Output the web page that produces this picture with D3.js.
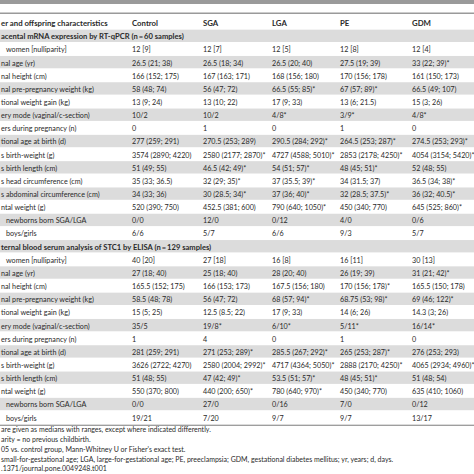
<!DOCTYPE html>
<html><head><meta charset="utf-8">
<script src="https://cdn.jsdelivr.net/npm/d3@7"></script>
<style>body{margin:0;background:#fff}svg{display:block}</style>
</head><body>
<script>
const columns = ["er and offspring characteristics","Control","SGA","LGA","PE","GDM"];
const section1 = "acental mRNA expression by RT-qPCR (n\u2009=\u200960 samples)";
const section2 = "ternal blood serum analysis of STC1 by ELISA (n\u2009=\u2009129 samples)";
const rows1 = [
 ["  women [nulliparity]","12 [9]","12 [7]","12 [5]","12 [8]","12 [4]"],
 ["nal age (yr)","26.5 (21; 38)","26.5 (18; 34)","26.5 (20; 40)","27.5 (19; 39)","33 (22; 39)*"],
 ["nal height (cm)","166 (152; 175)","167 (163; 171)","168 (156; 180)","170 (156; 178)","161 (150; 173)"],
 ["nal pre-pregnancy weight (kg)","58 (48; 74)","56 (47; 72)","66.5 (55; 85)*","67 (57; 89)*","66.5 (49; 107)"],
 ["tional weight gain (kg)","13 (9; 24)","13 (10; 22)","17 (9; 33)","13 (6; 21.5)","15 (3; 26)"],
 ["ery mode (vaginal/c-section)","10/2","10/2","4/8*","3/9*","4/8*"],
 ["ers during pregnancy (n)","0","1","0","1","0"],
 ["tional age at birth (d)","277 (259; 291)","270.5 (253; 289)","290.5 (284; 292)*","264.5 (253; 287)*","274.5 (253; 293)*"],
 ["s birth-weight (g)","3574 (2890; 4220)","2580 (2177; 2870)*","4727 (4588; 5010)*","2853 (2178; 4250)*","4054 (3154; 5420)*"],
 ["s birth length (cm)","51 (49; 55)","46.5 (42; 49)*","54 (51; 57)*","48 (45; 51)*","52 (48; 55)"],
 ["s head circumference (cm)","35 (33; 36.5)","32 (29; 35)*","37 (35.5; 39)*","34 (31.5; 37)","36.5 (34; 38)*"],
 ["s abdominal circumference (cm)","34 (33; 36)","30 (28.5; 34)*","37 (36; 40)*","32 (28.5; 37.5)*","36 (32; 40.5)*"],
 ["ntal weight (g)","520 (390; 750)","452.5 (381; 600)","790 (640; 1050)*","450 (340; 770)","645 (525; 860)*"],
 ["  newborns born SGA/LGA","0/0","12/0","0/12","4/0","0/6"],
 ["  boys/girls","6/6","5/7","6/6","9/3","5/7"]
];
const rows2 = [
 ["  women [nulliparity]","40 [20]","27 [18]","16 [8]","16 [11]","30 [13]"],
 ["nal age (yr)","27 (18; 40)","25 (18; 40)","28 (20; 40)","26 (19; 39)","31 (21; 42)*"],
 ["nal height (cm)","165.5 (152; 175)","166 (153; 173)","167.5 (156; 180)","170 (156; 178)*","165.5 (150; 178)"],
 ["nal pre-pregnancy weight (kg)","58.5 (48; 78)","56 (47; 72)","68 (57; 94)*","68.75 (53; 98)*","69 (46; 122)*"],
 ["tional weight gain (kg)","15 (5; 25)","12.5 (8.5; 22)","17 (9; 33)","14 (6; 26)","14.3 (3; 26)"],
 ["ery mode (vaginal/c-section)","35/5","19/8*","6/10*","5/11*","16/14*"],
 ["ers during pregnancy (n)","1","4","0","1","0"],
 ["tional age at birth (d)","281 (259; 291)","271 (253; 289)*","285.5 (267; 292)*","265 (253; 287)*","276 (253; 293)"],
 ["s birth-weight (g)","3626 (2722; 4270)","2580 (2004; 2992)*","4717 (4364; 5050)*","2888 (2170; 4250)*","4065 (2934; 4960)*"],
 ["s birth length (cm)","51 (48; 55)","47 (42; 49)*","53.5 (51; 57)*","48 (45; 51)*","51 (48; 54)"],
 ["ntal weight (g)","550 (370; 800)","440 (200; 650)*","780 (640; 970)*","450 (340; 770)","635 (410; 1060)"],
 ["  newborns born SGA/LGA","0/0","27/0","0/16","7/0","0/12"],
 ["  boys/girls","19/21","7/20","9/7","9/7","13/17"]
];
const footnotes = [
 "are given as medians with ranges, except where indicated differently.",
 "arity = no previous childbirth.",
 "05 vs. control group, Mann-Whitney U or Fisher's exact test.",
 "small-for-gestational age; LGA, large-for-gestational age; PE, preeclampsia; GDM, gestational diabetes mellitus; yr, years; d, days.",
 ".1371/journal.pone.0049248.t001"
];

const W=474,H=474;
const svg=d3.select("body").append("svg").attr("width",W).attr("height",H)
  .style("font-family","Lato, 'Open Sans', sans-serif");
const all=[{type:"header",cells:columns},{type:"section",text:section1}]
 .concat(rows1.map(c=>({type:"row",cells:c})))
 .concat([{type:"section",text:section2}])
 .concat(rows2.map(c=>({type:"row",cells:c})));
const rowH=13.15, top0=16.5;
const y=d3.scaleLinear().domain([0,1]).range([top0,top0+rowH]);
const colX=d3.scaleOrdinal().domain(d3.range(6)).range([1,132,203,272,340,412]);
const fill="#dcdcdc", tc="#2a2a2a";
svg.append("rect").attr("x",0).attr("y",0).attr("width",W).attr("height",4).attr("fill","#9a9a9a");
svg.append("rect").attr("x",0).attr("y",12.5).attr("width",W).attr("height",1.5).attr("fill","#9a9a9a");
let parity=0;
all.forEach((r,i)=>{
  const yt=y(i);
  let shaded=false;
  if(r.type==="section"){shaded=true;parity=0;}
  else if(r.type==="row"){shaded=(parity%2===1);parity++;}
  if(shaded) svg.append("rect").attr("x",0).attr("y",yt).attr("width",W).attr("height",rowH-0.8).attr("fill",fill);
  const cy=yt+rowH/2+3;
  if(r.type==="section"){
    svg.append("text").attr("x",1).attr("y",cy).attr("font-size",7.6).attr("font-weight","bold").attr("fill",tc).text(r.text);
  } else {
    r.cells.forEach((c,j)=>{
      const lead=(j===0 && c.startsWith("  "));
      svg.append("text").attr("x",colX(j)+(lead?5:0)).attr("y",cy)
        .attr("font-size",r.type==="header"?7.8:7.2)
        .attr("font-weight",r.type==="header"?"bold":"normal")
        .attr("fill",tc).text(c.trim());
    });
  }
});
const yEnd=y(all.length);
svg.append("rect").attr("x",0).attr("y",yEnd+0.5).attr("width",W).attr("height",1.3).attr("fill","#9a9a9a");
footnotes.forEach((f,i)=>{
  svg.append("text").attr("x",1).attr("y",yEnd+8+i*9.8).attr("font-size",7).attr("fill",tc).text(f);
});
</script>
</body></html>
